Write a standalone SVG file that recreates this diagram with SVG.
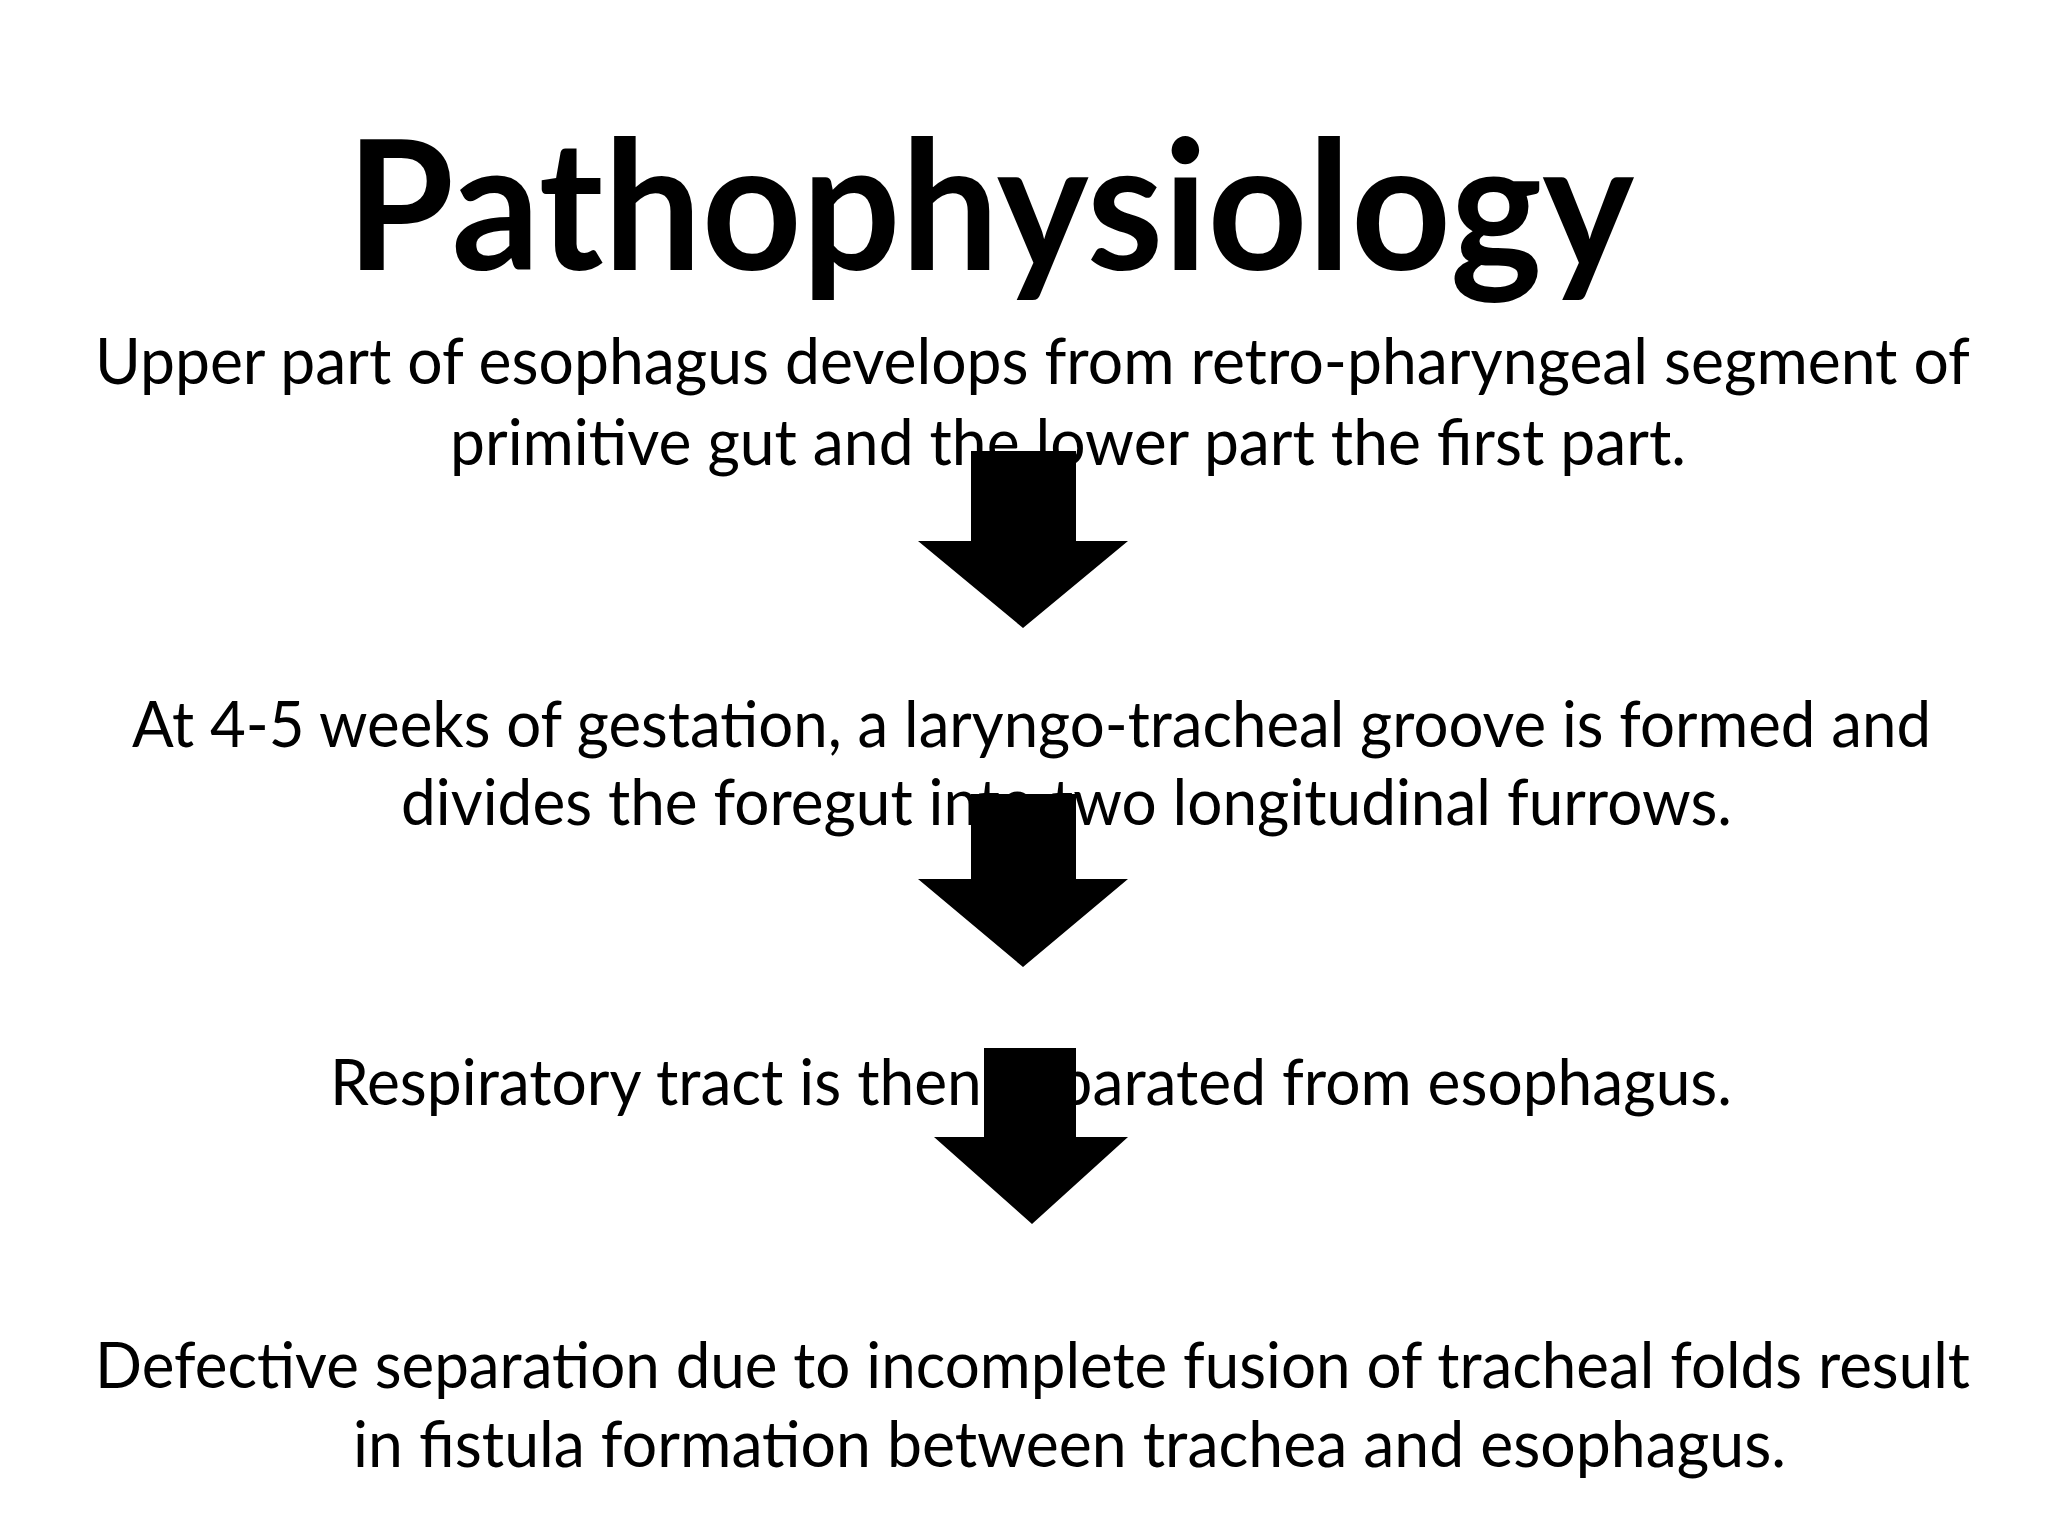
<svg xmlns="http://www.w3.org/2000/svg" width="2048" height="1536" viewBox="0 0 2048 1536">
<style>
.t{font-family:Lato,"Liberation Sans",sans-serif;font-size:64px;fill:#000}
.h{font-family:Lato,"Liberation Sans",sans-serif;font-size:180px;font-weight:bold;fill:#000}
.a{fill:#000}
</style>
<rect width="2048" height="1536" fill="#fff"/>
<g id="title"><text class="h" x="277" y="270" textLength="1370" lengthAdjust="spacingAndGlyphs" transform="translate(86,0) scale(0.94,1)">Pathophysiology</text></g>
<g id="n1"><text class="t" x="95" y="384" textLength="1875" lengthAdjust="spacingAndGlyphs">Upper part of esophagus develops from retro-pharyngeal segment of</text>
<text class="t" x="450" y="465" textLength="1236" lengthAdjust="spacingAndGlyphs">primitive gut and the lower part the first part.</text></g>
<g id="n2"><text class="t" x="132" y="747" textLength="1799" lengthAdjust="spacingAndGlyphs">At 4-5 weeks of gestation, a laryngo-tracheal groove is formed and</text>
<text class="t" x="401" y="825" textLength="1331" lengthAdjust="spacingAndGlyphs">divides the foregut into two longitudinal furrows.</text></g>
<g id="n3"><text class="t" x="330" y="1105" textLength="1402" lengthAdjust="spacingAndGlyphs">Respiratory tract is then separated from esophagus.</text></g>
<g id="n4"><text class="t" x="95" y="1388" textLength="1875" lengthAdjust="spacingAndGlyphs">Defective separation due to incomplete fusion of tracheal folds result</text>
<text class="t" x="353" y="1467" textLength="1433" lengthAdjust="spacingAndGlyphs">in fistula formation between trachea and esophagus.</text></g>
<g id="connectors">
<polygon class="a" points="971,451 1076,451 1076,541 1128,541 1023,628 918,541 971,541"/>
<polygon class="a" points="971,794 1076,794 1076,879 1128,879 1023,967 918,879 971,879"/>
<polygon class="a" points="984,1048 1076,1048 1076,1137 1128,1137 1032,1224 934,1137 984,1137"/>
</g>
</svg>
